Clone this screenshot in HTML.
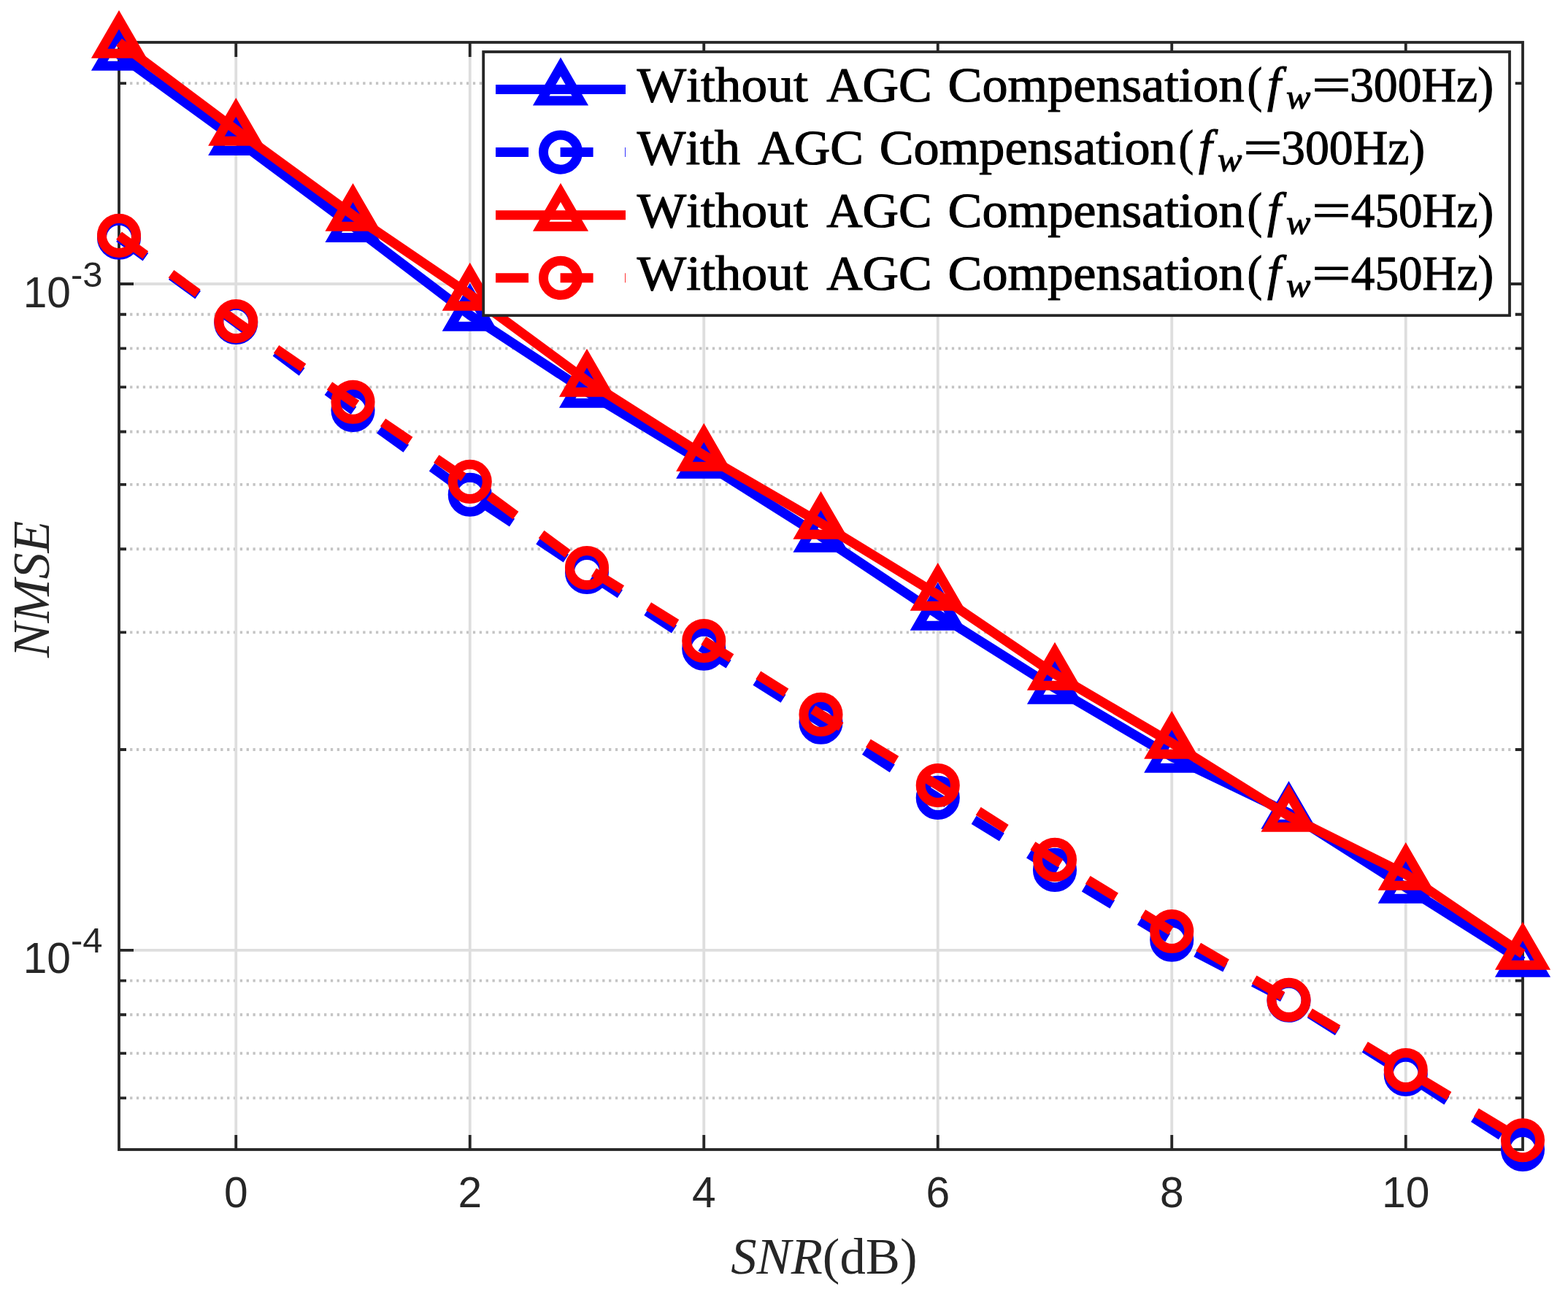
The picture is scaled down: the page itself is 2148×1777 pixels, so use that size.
<!DOCTYPE html>
<html><head><meta charset="utf-8"><title>NMSE vs SNR</title>
<style>html,body{margin:0;padding:0;background:#fff;overflow:hidden;}svg{display:block;}.tk{font-family:"Liberation Sans",Arial,sans-serif;fill:#262626;}.lb{font-family:"Liberation Serif","Times New Roman",serif;fill:#262626;}.lg{font-family:"Liberation Serif","Times New Roman",serif;fill:#000;stroke:#000;stroke-width:1.1px;font-kerning:none;}</style></head><body>
<svg width="2148" height="1777" viewBox="0 0 2148 1777">
<rect x="0" y="0" width="2148" height="1777" fill="#fff"/>
<g stroke="#c4c4c4" stroke-width="3.8" stroke-dasharray="3.3 5.564" fill="none">
<line x1="178.10" y1="1504.30" x2="2084.00" y2="1504.30"/>
<line x1="178.10" y1="1443.19" x2="2084.00" y2="1443.19"/>
<line x1="178.10" y1="1390.26" x2="2084.00" y2="1390.26"/>
<line x1="178.10" y1="1343.57" x2="2084.00" y2="1343.57"/>
<line x1="178.10" y1="1027.02" x2="2084.00" y2="1027.02"/>
<line x1="178.10" y1="866.28" x2="2084.00" y2="866.28"/>
<line x1="178.10" y1="752.24" x2="2084.00" y2="752.24"/>
<line x1="178.10" y1="663.78" x2="2084.00" y2="663.78"/>
<line x1="178.10" y1="591.50" x2="2084.00" y2="591.50"/>
<line x1="178.10" y1="530.39" x2="2084.00" y2="530.39"/>
<line x1="178.10" y1="477.46" x2="2084.00" y2="477.46"/>
<line x1="178.10" y1="430.77" x2="2084.00" y2="430.77"/>
<line x1="178.10" y1="114.22" x2="2084.00" y2="114.22"/>
</g>
<g stroke="#dedede" stroke-width="3.8" fill="none">
<line x1="323.25" y1="58.00" x2="323.25" y2="1575.00"/>
<line x1="643.75" y1="58.00" x2="643.75" y2="1575.00"/>
<line x1="964.25" y1="58.00" x2="964.25" y2="1575.00"/>
<line x1="1284.75" y1="58.00" x2="1284.75" y2="1575.00"/>
<line x1="1605.25" y1="58.00" x2="1605.25" y2="1575.00"/>
<line x1="1925.75" y1="58.00" x2="1925.75" y2="1575.00"/>
<line x1="163.00" y1="389.00" x2="2086.00" y2="389.00"/>
<line x1="163.00" y1="1301.80" x2="2086.00" y2="1301.80"/>
</g>
<g stroke="#262626" stroke-width="3.8" fill="none" stroke-linecap="butt">
<rect x="163.00" y="58.00" width="1923.00" height="1517.00"/>
<path d="M323.25 1575.00V1555.00M323.25 58.00V78.00M643.75 1575.00V1555.00M643.75 58.00V78.00M964.25 1575.00V1555.00M964.25 58.00V78.00M1284.75 1575.00V1555.00M1284.75 58.00V78.00M1605.25 1575.00V1555.00M1605.25 58.00V78.00M1925.75 1575.00V1555.00M1925.75 58.00V78.00M163.00 389.00H183.00M2086.00 389.00H2066.00M163.00 1301.80H183.00M2086.00 1301.80H2066.00M163.00 1504.30H173.00M2086.00 1504.30H2076.00M163.00 1443.19H173.00M2086.00 1443.19H2076.00M163.00 1390.26H173.00M2086.00 1390.26H2076.00M163.00 1343.57H173.00M2086.00 1343.57H2076.00M163.00 1027.02H173.00M2086.00 1027.02H2076.00M163.00 866.28H173.00M2086.00 866.28H2076.00M163.00 752.24H173.00M2086.00 752.24H2076.00M163.00 663.78H173.00M2086.00 663.78H2076.00M163.00 591.50H173.00M2086.00 591.50H2076.00M163.00 530.39H173.00M2086.00 530.39H2076.00M163.00 477.46H173.00M2086.00 477.46H2076.00M163.00 430.77H173.00M2086.00 430.77H2076.00M163.00 114.22H173.00M2086.00 114.22H2076.00"/>
</g>
<text class="tk" x="323.25" y="1654" font-size="58.7" text-anchor="middle">0</text>
<text class="tk" x="643.75" y="1654" font-size="58.7" text-anchor="middle">2</text>
<text class="tk" x="964.25" y="1654" font-size="58.7" text-anchor="middle">4</text>
<text class="tk" x="1284.75" y="1654" font-size="58.7" text-anchor="middle">6</text>
<text class="tk" x="1605.25" y="1654" font-size="58.7" text-anchor="middle">8</text>
<text class="tk" x="1925.75" y="1654" font-size="58.7" text-anchor="middle">10</text>
<text class="tk" x="140.5" y="421.0" font-size="58.7" text-anchor="end">10<tspan font-size="49" dy="-28.4">-3</tspan></text>
<text class="tk" x="140.5" y="1333.0" font-size="58.7" text-anchor="end">10<tspan font-size="49" dy="-28.4">-4</tspan></text>
<text class="lb" x="1128.8" y="1745.4" font-size="70.7" text-anchor="middle"><tspan font-style="italic">SNR</tspan>(dB)</text>
<text class="lb" transform="translate(67,807.3) rotate(-90)" x="0" y="0" font-size="71.8" font-style="italic" text-anchor="middle">NMSE</text>
<polyline points="163.00,74.80 323.25,191.00 483.50,310.00 643.75,431.70 804.00,536.90 964.25,633.80 1124.50,734.80 1284.75,841.70 1445.00,942.70 1605.25,1036.90 1765.50,1113.80 1925.75,1215.80 2086.00,1316.90" fill="none" stroke="#0000ff" stroke-width="13.0" stroke-linejoin="round"/>
<path d="M163.00 43.90L189.80 90.25L136.20 90.25ZM323.25 160.10L350.05 206.45L296.45 206.45ZM483.50 279.10L510.30 325.45L456.70 325.45ZM643.75 400.80L670.55 447.15L616.95 447.15ZM804.00 506.00L830.80 552.35L777.20 552.35ZM964.25 602.90L991.05 649.25L937.45 649.25ZM1124.50 703.90L1151.30 750.25L1097.70 750.25ZM1284.75 810.80L1311.55 857.15L1257.95 857.15ZM1445.00 911.80L1471.80 958.15L1418.20 958.15ZM1605.25 1006.00L1632.05 1052.35L1578.45 1052.35ZM1765.50 1082.90L1792.30 1129.25L1738.70 1129.25ZM1925.75 1184.90L1952.55 1231.25L1898.95 1231.25ZM2086.00 1286.00L2112.80 1332.35L2059.20 1332.35Z" fill="none" stroke="#0000ff" stroke-width="13.0" stroke-linejoin="miter"/>
<polyline points="163.00,325.70 323.25,441.90 483.50,561.90 643.75,677.80 804.00,784.00 964.25,888.80 1124.50,989.80 1284.75,1092.90 1445.00,1191.90 1605.25,1287.80 1765.50,1370.80 1925.75,1471.90 2086.00,1574.90" fill="none" stroke="#0000ff" stroke-width="13.0" stroke-linejoin="round" stroke-dasharray="45 43.6"/>
<circle cx="163.00" cy="325.70" r="23.55" fill="none" stroke="#0000ff" stroke-width="13.0"/>
<circle cx="323.25" cy="441.90" r="23.55" fill="none" stroke="#0000ff" stroke-width="13.0"/>
<circle cx="483.50" cy="561.90" r="23.55" fill="none" stroke="#0000ff" stroke-width="13.0"/>
<circle cx="643.75" cy="677.80" r="23.55" fill="none" stroke="#0000ff" stroke-width="13.0"/>
<circle cx="804.00" cy="784.00" r="23.55" fill="none" stroke="#0000ff" stroke-width="13.0"/>
<circle cx="964.25" cy="888.80" r="23.55" fill="none" stroke="#0000ff" stroke-width="13.0"/>
<circle cx="1124.50" cy="989.80" r="23.55" fill="none" stroke="#0000ff" stroke-width="13.0"/>
<circle cx="1284.75" cy="1092.90" r="23.55" fill="none" stroke="#0000ff" stroke-width="13.0"/>
<circle cx="1445.00" cy="1191.90" r="23.55" fill="none" stroke="#0000ff" stroke-width="13.0"/>
<circle cx="1605.25" cy="1287.80" r="23.55" fill="none" stroke="#0000ff" stroke-width="13.0"/>
<circle cx="1765.50" cy="1370.80" r="23.55" fill="none" stroke="#0000ff" stroke-width="13.0"/>
<circle cx="1925.75" cy="1471.90" r="23.55" fill="none" stroke="#0000ff" stroke-width="13.0"/>
<circle cx="2086.00" cy="1574.90" r="23.55" fill="none" stroke="#0000ff" stroke-width="13.0"/>
<polyline points="163.00,57.90 323.25,177.90 483.50,294.80 643.75,403.70 804.00,521.70 964.25,623.70 1124.50,716.90 1284.75,814.80 1445.00,923.70 1605.25,1017.90 1765.50,1117.90 1925.75,1197.90 2086.00,1306.90" fill="none" stroke="#ff0000" stroke-width="13.0" stroke-linejoin="round"/>
<path d="M163.00 27.00L189.80 73.35L136.20 73.35ZM323.25 147.00L350.05 193.35L296.45 193.35ZM483.50 263.90L510.30 310.25L456.70 310.25ZM643.75 372.80L670.55 419.15L616.95 419.15ZM804.00 490.80L830.80 537.15L777.20 537.15ZM964.25 592.80L991.05 639.15L937.45 639.15ZM1124.50 686.00L1151.30 732.35L1097.70 732.35ZM1284.75 783.90L1311.55 830.25L1257.95 830.25ZM1445.00 892.80L1471.80 939.15L1418.20 939.15ZM1605.25 987.00L1632.05 1033.35L1578.45 1033.35ZM1765.50 1087.00L1792.30 1133.35L1738.70 1133.35ZM1925.75 1167.00L1952.55 1213.35L1898.95 1213.35ZM2086.00 1276.00L2112.80 1322.35L2059.20 1322.35Z" fill="none" stroke="#ff0000" stroke-width="13.0" stroke-linejoin="miter"/>
<polyline points="163.00,322.85 323.25,440.10 483.50,550.80 643.75,659.90 804.00,778.00 964.25,878.00 1124.50,978.90 1284.75,1076.00 1445.00,1177.90 1605.25,1276.00 1765.50,1369.90 1925.75,1466.00 2086.00,1562.30" fill="none" stroke="#ff0000" stroke-width="13.0" stroke-linejoin="round" stroke-dasharray="45 43.6"/>
<circle cx="163.00" cy="322.85" r="23.55" fill="none" stroke="#ff0000" stroke-width="13.0"/>
<circle cx="323.25" cy="440.10" r="23.55" fill="none" stroke="#ff0000" stroke-width="13.0"/>
<circle cx="483.50" cy="550.80" r="23.55" fill="none" stroke="#ff0000" stroke-width="13.0"/>
<circle cx="643.75" cy="659.90" r="23.55" fill="none" stroke="#ff0000" stroke-width="13.0"/>
<circle cx="804.00" cy="778.00" r="23.55" fill="none" stroke="#ff0000" stroke-width="13.0"/>
<circle cx="964.25" cy="878.00" r="23.55" fill="none" stroke="#ff0000" stroke-width="13.0"/>
<circle cx="1124.50" cy="978.90" r="23.55" fill="none" stroke="#ff0000" stroke-width="13.0"/>
<circle cx="1284.75" cy="1076.00" r="23.55" fill="none" stroke="#ff0000" stroke-width="13.0"/>
<circle cx="1445.00" cy="1177.90" r="23.55" fill="none" stroke="#ff0000" stroke-width="13.0"/>
<circle cx="1605.25" cy="1276.00" r="23.55" fill="none" stroke="#ff0000" stroke-width="13.0"/>
<circle cx="1765.50" cy="1369.90" r="23.55" fill="none" stroke="#ff0000" stroke-width="13.0"/>
<circle cx="1925.75" cy="1466.00" r="23.55" fill="none" stroke="#ff0000" stroke-width="13.0"/>
<circle cx="2086.00" cy="1562.30" r="23.55" fill="none" stroke="#ff0000" stroke-width="13.0"/>
<rect x="662.20" y="71.00" width="1405.80" height="361.20" fill="#fff" stroke="#262626" stroke-width="3.8"/>
<line x1="679" y1="122.50" x2="857" y2="122.50" stroke="#0000ff" stroke-width="13.0"/>
<path d="M768.00 91.60L794.80 137.95L741.20 137.95Z" fill="none" stroke="#0000ff" stroke-width="13.0"/>
<text class="lg" x="872.83" y="139.10" font-size="67" textLength="233.89" lengthAdjust="spacingAndGlyphs">Without</text>
<text class="lg" x="1132.23" y="139.10" font-size="67" textLength="144.44" lengthAdjust="spacingAndGlyphs">AGC</text>
<text class="lg" x="1298.52" y="139.10" font-size="67" textLength="406.05" lengthAdjust="spacingAndGlyphs">Compensation</text>
<text class="lg" x="1708.38" y="139.10" font-size="67" textLength="20.62" lengthAdjust="spacingAndGlyphs">(</text>
<text class="lg" x="1735.96" y="139.10" font-size="67" font-style="italic">f</text>
<text class="lg" x="1761.91" y="148.60" font-size="48" textLength="33.26" lengthAdjust="spacingAndGlyphs" font-style="italic">w</text>
<text class="lg" x="1797.19" y="139.10" font-size="67" textLength="53.33" lengthAdjust="spacingAndGlyphs">=</text>
<text class="lg" x="1848.95" y="139.10" font-size="67" textLength="197.13" lengthAdjust="spacingAndGlyphs">300Hz)</text>
<line x1="679" y1="208.60" x2="857" y2="208.60" stroke="#0000ff" stroke-width="13.0" stroke-dasharray="45 43.6"/>
<circle cx="768" cy="208.60" r="23.55" fill="none" stroke="#0000ff" stroke-width="13.0"/>
<text class="lg" x="872.83" y="225.20" font-size="67" textLength="141.10" lengthAdjust="spacingAndGlyphs">With</text>
<text class="lg" x="1038.38" y="225.20" font-size="67" textLength="144.44" lengthAdjust="spacingAndGlyphs">AGC</text>
<text class="lg" x="1204.67" y="225.20" font-size="67" textLength="406.05" lengthAdjust="spacingAndGlyphs">Compensation</text>
<text class="lg" x="1614.53" y="225.20" font-size="67" textLength="20.62" lengthAdjust="spacingAndGlyphs">(</text>
<text class="lg" x="1642.11" y="225.20" font-size="67" font-style="italic">f</text>
<text class="lg" x="1668.06" y="234.70" font-size="48" textLength="33.26" lengthAdjust="spacingAndGlyphs" font-style="italic">w</text>
<text class="lg" x="1703.34" y="225.20" font-size="67" textLength="53.33" lengthAdjust="spacingAndGlyphs">=</text>
<text class="lg" x="1755.10" y="225.20" font-size="67" textLength="197.13" lengthAdjust="spacingAndGlyphs">300Hz)</text>
<line x1="679" y1="294.70" x2="857" y2="294.70" stroke="#ff0000" stroke-width="13.0"/>
<path d="M768.00 263.80L794.80 310.15L741.20 310.15Z" fill="none" stroke="#ff0000" stroke-width="13.0"/>
<text class="lg" x="872.83" y="311.30" font-size="67" textLength="233.89" lengthAdjust="spacingAndGlyphs">Without</text>
<text class="lg" x="1132.23" y="311.30" font-size="67" textLength="144.44" lengthAdjust="spacingAndGlyphs">AGC</text>
<text class="lg" x="1298.52" y="311.30" font-size="67" textLength="406.05" lengthAdjust="spacingAndGlyphs">Compensation</text>
<text class="lg" x="1708.38" y="311.30" font-size="67" textLength="20.62" lengthAdjust="spacingAndGlyphs">(</text>
<text class="lg" x="1735.96" y="311.30" font-size="67" font-style="italic">f</text>
<text class="lg" x="1761.91" y="320.80" font-size="48" textLength="33.26" lengthAdjust="spacingAndGlyphs" font-style="italic">w</text>
<text class="lg" x="1797.19" y="311.30" font-size="67" textLength="53.33" lengthAdjust="spacingAndGlyphs">=</text>
<text class="lg" x="1850.83" y="311.30" font-size="67" textLength="195.23" lengthAdjust="spacingAndGlyphs">450Hz)</text>
<line x1="679" y1="380.80" x2="857" y2="380.80" stroke="#ff0000" stroke-width="13.0" stroke-dasharray="45 43.6"/>
<circle cx="768" cy="380.80" r="23.55" fill="none" stroke="#ff0000" stroke-width="13.0"/>
<text class="lg" x="872.83" y="397.40" font-size="67" textLength="233.89" lengthAdjust="spacingAndGlyphs">Without</text>
<text class="lg" x="1132.23" y="397.40" font-size="67" textLength="144.44" lengthAdjust="spacingAndGlyphs">AGC</text>
<text class="lg" x="1298.52" y="397.40" font-size="67" textLength="406.05" lengthAdjust="spacingAndGlyphs">Compensation</text>
<text class="lg" x="1708.38" y="397.40" font-size="67" textLength="20.62" lengthAdjust="spacingAndGlyphs">(</text>
<text class="lg" x="1735.96" y="397.40" font-size="67" font-style="italic">f</text>
<text class="lg" x="1761.91" y="406.90" font-size="48" textLength="33.26" lengthAdjust="spacingAndGlyphs" font-style="italic">w</text>
<text class="lg" x="1797.19" y="397.40" font-size="67" textLength="53.33" lengthAdjust="spacingAndGlyphs">=</text>
<text class="lg" x="1850.83" y="397.40" font-size="67" textLength="195.23" lengthAdjust="spacingAndGlyphs">450Hz)</text>
</svg>
</body></html>
